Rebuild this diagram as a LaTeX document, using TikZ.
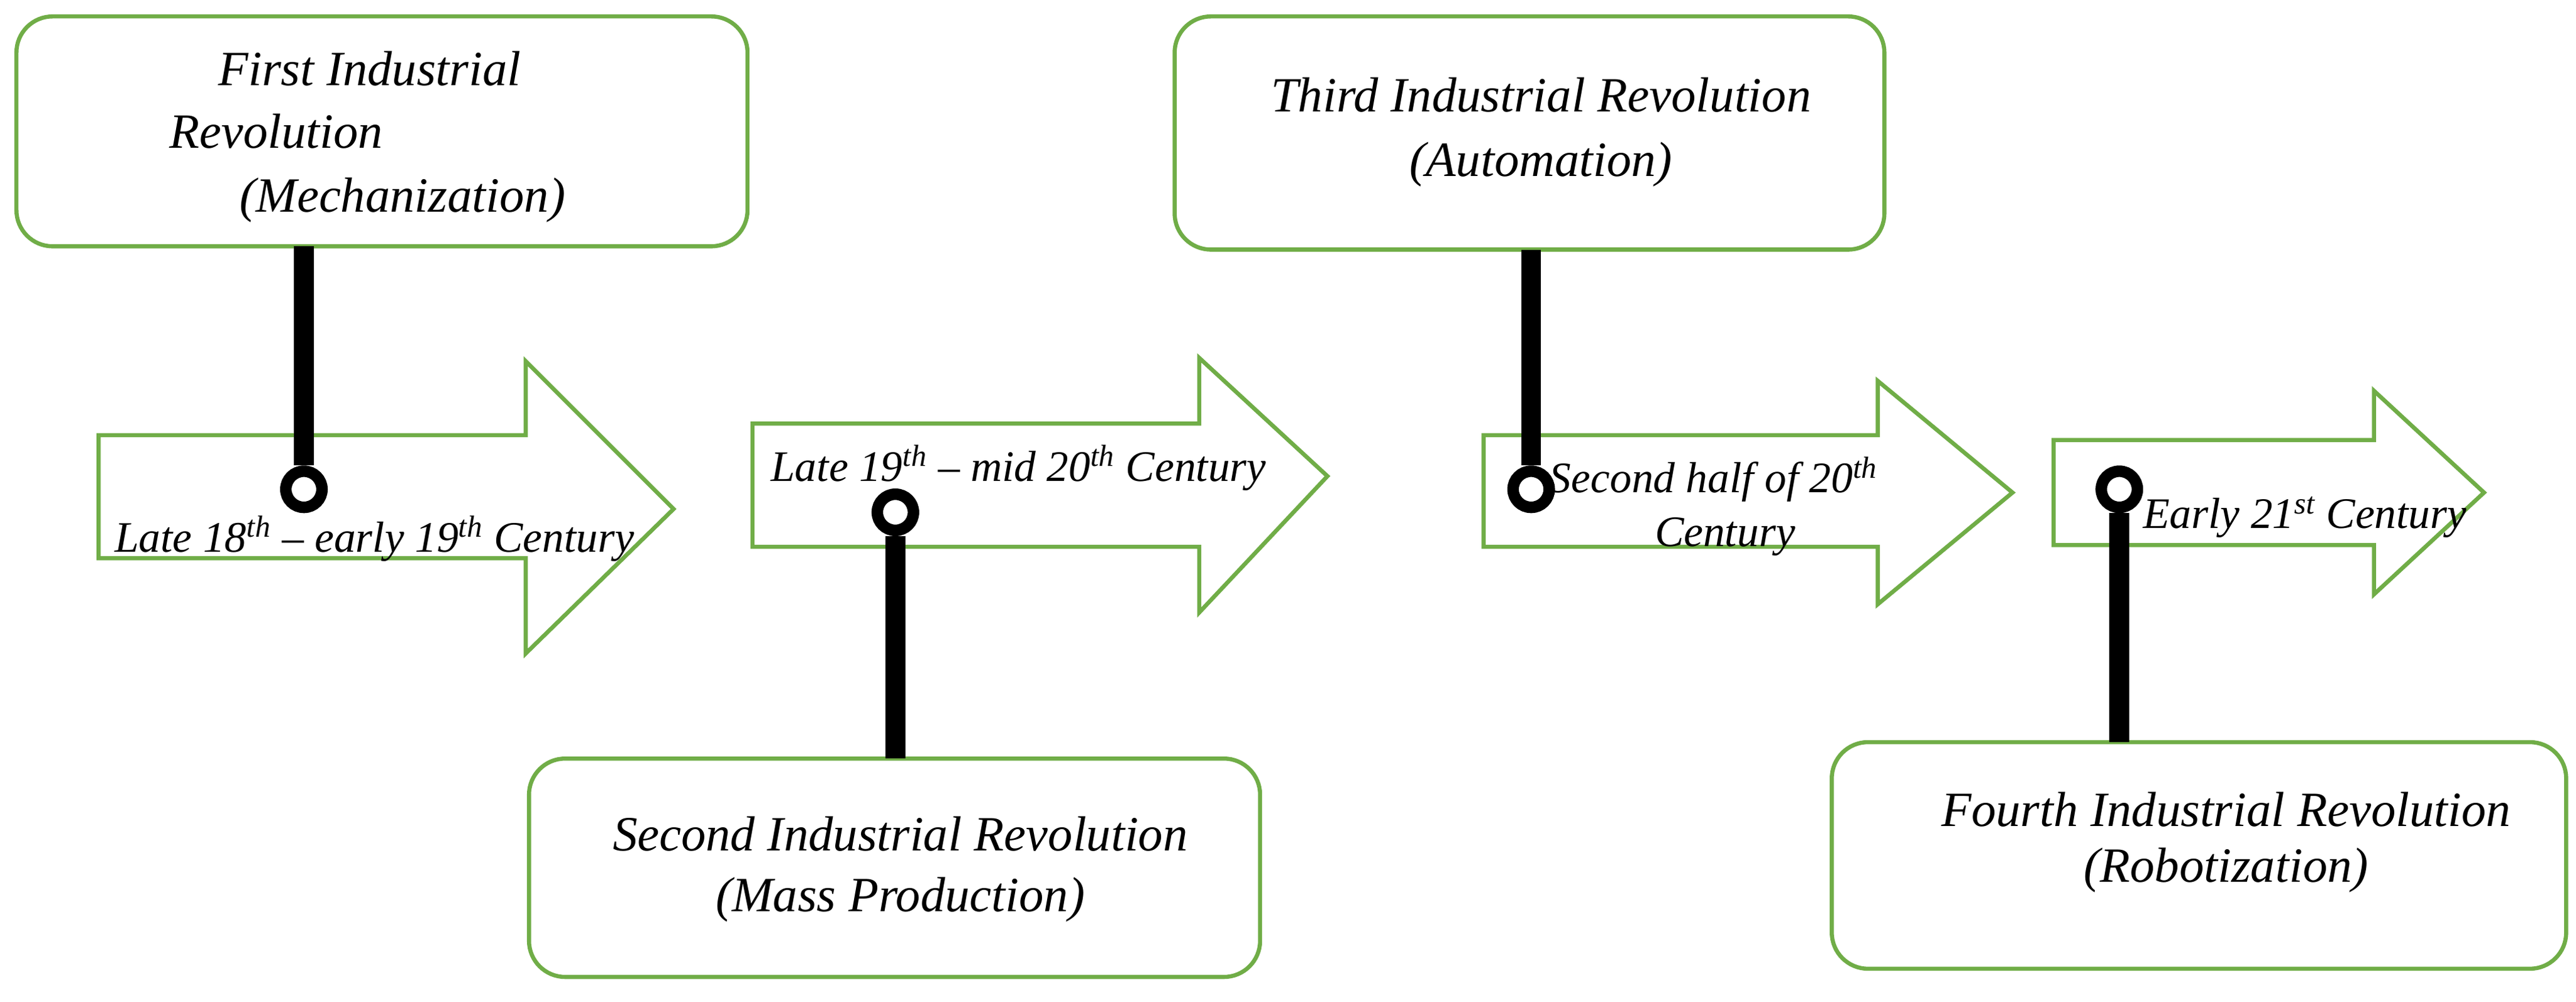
\documentclass[tikz,border=0pt]{standalone}
\usepackage{fontspec}
\setmainfont{Liberation Serif}
\definecolor{grn}{HTML}{70AD47}
\begin{document}
\begin{tikzpicture}[x=1pt,y=-1pt,
  box/.style={draw=grn,line width=2.5pt,rounded corners=22pt,fill=white},
  arr/.style={draw=grn,line width=2.5pt,fill=white,line join=miter},
  txt/.style={font=\fontsize{30}{34}\selectfont\itshape,inner sep=0pt},
  atxt/.style={font=\fontsize{26.5}{30}\selectfont\itshape,inner sep=0pt},
  ring/.style={circle,draw=black,line width=7pt,fill=white,minimum size=22pt,inner sep=0pt},
  stem/.style={line width=12pt,black}]
\useasboundingbox (0,0) rectangle (1568,610);
% arrows
\draw[arr] (60,265)--(320,265)--(320,220)--(410,310)--(320,398)--(320,340)--(60,340)--cycle;
\draw[arr] (458,258)--(730,258)--(730,218)--(808,290)--(730,373)--(730,333)--(458,333)--cycle;
\draw[arr] (903,265)--(1143,265)--(1143,232)--(1225,300)--(1143,368)--(1143,333)--(903,333)--cycle;
\draw[arr] (1250,268)--(1445,268)--(1445,238)--(1512,300)--(1445,362)--(1445,332)--(1250,332)--cycle;
% boxes
\draw[box] (10,10) rectangle (455,150);
\coordinate (b1) at (185,150);
\node[txt] (t1a) at (225,42) {First Industrial};
\node[txt] (t1b) at (168,80) {Revolution};
\node[txt] (t1c) at (245,122) {(Mechanization)};
\draw[box] (322,462) rectangle (767,595);
\coordinate (b2) at (545,462);
\node[txt] (t2a) at (548,508) {Second Industrial Revolution};
\node[txt] (t2b) at (548,548) {(Mass Production)};
\draw[box] (715,10) rectangle (1147,152);
\coordinate (b3) at (932,152);
\node[txt] (t3a) at (938,58) {Third Industrial Revolution};
\node[txt] (t3b) at (938,100) {(Automation)};
\draw[box] (1115,452) rectangle (1562,590);
\coordinate (b4) at (1290,452);
\node[txt] (t4a) at (1355,493) {Fourth Industrial Revolution};
\node[txt] (t4b) at (1355,530) {(Robotization)};
% rings and stems
\node[ring] (c1) at (185,298) {};
\node[ring] (c2) at (545,312) {};
\node[ring] (c3) at (932,298) {};
\node[ring] (c4) at (1290,298) {};
\draw[stem] (b1) -- (c1.north);
\draw[stem] (c2.south) -- (b2);
\draw[stem] (b3) -- (c3.north);
\draw[stem] (c4.south) -- (b4);
% arrow labels
\node[atxt] (l1) at (228,328) {Late 18\textsuperscript{th} – early 19\textsuperscript{th} Century};
\node[atxt] (l2) at (620,285) {Late 19\textsuperscript{th} – mid 20\textsuperscript{th} Century};
\node[atxt] (l3a) at (1043,292) {Second half of 20\textsuperscript{th}};
\node[atxt] (l3b) at (1050,327) {Century};
\node[atxt] (l4) at (1403,315) {Early 21\textsuperscript{st} Century};
\end{tikzpicture}
\end{document}
